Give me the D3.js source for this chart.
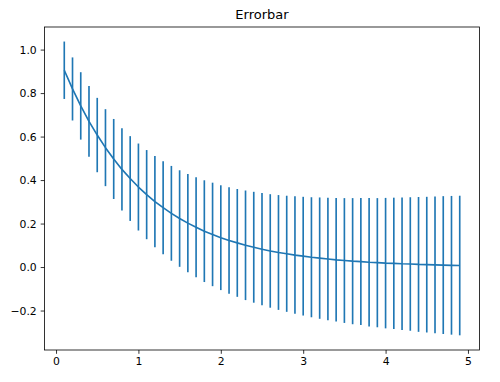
<!DOCTYPE html>
<html>
<head>
<meta charset="utf-8">
<title>Errorbar</title>
<script src="https://d3js.org/d3.v7.min.js"></script>
<style>
  body { margin: 0; background: #fff; }
  svg { font-family: "DejaVu Sans", sans-serif; }
</style>
</head>
<body>
<script>
// values
const xs = [0.1,0.2,0.3,0.4,0.5,0.6,0.7,0.8,0.9,1.0,1.1,1.2,1.3,1.4,1.5,1.6,1.7,1.8,1.9,2.0,
  2.1,2.2,2.3,2.4,2.5,2.6,2.7,2.8,2.9,3.0,3.1,3.2,3.3,3.4,3.5,3.6,3.7,3.8,3.9,4.0,
  4.1,4.2,4.3,4.4,4.5,4.6,4.7,4.8,4.9];
const ys = [0.905,0.819,0.741,0.670,0.607,0.549,0.497,0.449,0.407,0.368,0.333,0.301,0.273,0.247,0.223,0.202,0.183,0.165,0.150,0.135,
  0.122,0.111,0.100,0.091,0.082,0.074,0.067,0.061,0.055,0.050,0.045,0.041,0.037,0.033,0.030,0.027,0.025,0.022,0.020,0.018,
  0.017,0.015,0.014,0.012,0.011,0.010,0.009,0.008,0.007];
const errs = [0.132,0.145,0.155,0.163,0.171,0.177,0.184,0.189,0.195,0.200,0.205,0.210,0.214,0.218,0.222,0.226,0.230,0.234,0.238,0.241,
  0.245,0.248,0.252,0.255,0.258,0.261,0.264,0.267,0.270,0.273,0.276,0.279,0.282,0.284,0.287,0.290,0.292,0.295,0.297,0.300,
  0.302,0.305,0.307,0.310,0.312,0.314,0.317,0.319,0.321];
const xTicks = [0, 1, 2, 3, 4, 5];
const yTicks = [-0.2, 0.0, 0.2, 0.4, 0.6, 0.8, 1.0];

const width = 500, height = 382;
const m = {left: 44.5, right: 20.5, top: 27, bottom: 32};
const color = "#1f77b4";

const svg = d3.select("body").append("svg")
    .attr("width", width).attr("height", height);

const x = d3.scaleLinear().domain([-0.14, 5.14]).range([m.left, width - m.right]);
const y = d3.scaleLinear().domain([-0.3815, 1.1039]).range([height - m.bottom, m.top]);

const data = xs.map((v, i) => ({x: v, y: ys[i], e: errs[i]}));

// error bars
svg.append("g").selectAll("line")
  .data(data).join("line")
    .attr("x1", d => x(d.x)).attr("x2", d => x(d.x))
    .attr("y1", d => y(d.y - d.e)).attr("y2", d => y(d.y + d.e))
    .attr("stroke", color).attr("stroke-width", 1.65);

// main line
svg.append("path")
  .datum(data)
  .attr("fill", "none")
  .attr("stroke", color)
  .attr("stroke-width", 1.65)
  .attr("stroke-linejoin", "round")
  .attr("d", d3.line().x(d => x(d.x)).y(d => y(d.y)));

const fmt = v => (v < 0 ? "\u2212" : "") + Math.abs(v).toFixed(1);

const xAxis = svg.append("g")
  .attr("transform", `translate(0,${height - m.bottom})`)
  .call(d3.axisBottom(x).tickValues(xTicks).tickFormat(d3.format("d")).tickSize(3.8).tickPadding(4));
const yAxis = svg.append("g")
  .attr("transform", `translate(${m.left},0)`)
  .call(d3.axisLeft(y).tickValues(yTicks).tickFormat(fmt).tickSize(3.8).tickPadding(4));

[xAxis, yAxis].forEach(g => {
  g.select(".domain").remove();
  g.selectAll("line").attr("stroke", "#000").attr("stroke-width", 0.8);
  g.selectAll("text").attr("font-size", 10.8).attr("fill", "#000")
    .attr("font-family", "DejaVu Sans, sans-serif");
});

// frame
svg.append("rect")
  .attr("x", m.left).attr("y", m.top)
  .attr("width", width - m.left - m.right)
  .attr("height", height - m.top - m.bottom)
  .attr("fill", "none").attr("stroke", "#000").attr("stroke-width", 0.8);

svg.append("text")
  .attr("x", (m.left + width - m.right) / 2).attr("y", 19)
  .attr("text-anchor", "middle")
  .attr("font-size", 13)
  .text("Errorbar");
</script>
</body>
</html>
